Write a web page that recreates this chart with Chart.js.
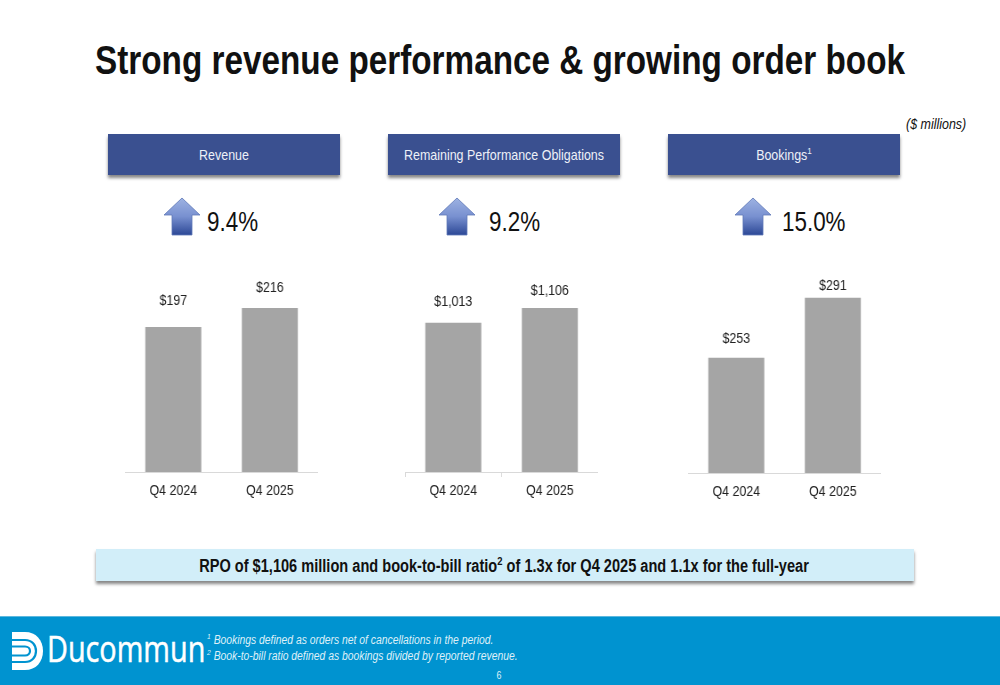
<!DOCTYPE html>
<html>
<head>
<meta charset="utf-8">
<title>Ducommun revenue and order book</title>
<script src="https://cdn.jsdelivr.net/npm/chart.js@4"></script>
<style>
  html, body { margin: 0; padding: 0; background: #fff; }
  body { width: 1000px; height: 685px; position: relative; overflow: hidden; font-family: "Liberation Sans", Arial, sans-serif; color: #111; }
  /* the slide runs a little narrow, so text and canvases get a horizontal squeeze */
  .l, .c { position: absolute; white-space: nowrap; line-height: 1; }
  .l { transform: scaleX(.89); transform-origin: left center; }
  .c { transform: translateX(-50%) scaleX(.89); }
  sup { font-size: 65%; line-height: 0; }
  canvas { position: absolute; transform: scaleX(.89); transform-origin: left top; }
  .head { position: absolute; top: 134px; width: 232px; height: 41px; background: #3a5090; box-shadow: 0 3px 3px rgba(70,70,70,.65); }
  .head div { left: 116px; top: 13px; color: #eef1f8; font-size: 15px; transform: translateX(-50%) scaleX(.83); }
  .arrow { position: absolute; top: 197px; width: 38px; height: 39px; }
  .pct { font-size: 28px; top: 208px; color: #111; transform: scaleX(.8); }
  #note { position: absolute; left: 96px; top: 549px; width: 818px; height: 32px; background: #d2eef9; box-shadow: 0 3px 3px rgba(70,70,70,.65); }
  #foot { position: absolute; left: 0; top: 616px; width: 1000px; height: 69px; background: #0093d0; border-top: 1px solid #5db8de; box-sizing: border-box; }
  .fn { font-size: 12px; font-style: italic; color: #dff0f8; transform: scaleX(.863); }
</style>
</head>
<body>
<div class="c" style="left:500px;top:40px;font-size:40px;font-weight:bold;transform:translateX(-50%) scaleX(.832)">Strong revenue performance &amp; growing order book</div>
<div class="l" style="left:906px;top:117px;font-size:14px;font-style:italic">($ millions)</div>

<div class="head" style="left:108px"><div class="c">Revenue</div></div>
<div class="head" style="left:388px"><div class="c">Remaining Performance Obligations</div></div>
<div class="head" style="left:668px"><div class="c">Bookings<sup>1</sup></div></div>

<svg width="0" height="0" style="position:absolute">
  <defs>
    <linearGradient id="up" x1="0" y1="0" x2="0" y2="1">
      <stop offset="0" stop-color="#9db2e2"/>
      <stop offset=".5" stop-color="#7890d0"/>
      <stop offset="1" stop-color="#2c4896"/>
    </linearGradient>
    <path id="upPath" d="M19 1 L37 18 H29 V38 H9 V18 H1 Z" fill="url(#up)" stroke="#5f79b8" stroke-width=".8"/>
  </defs>
</svg>
<svg class="arrow" style="left:163px"><use href="#upPath"/></svg>
<svg class="arrow" style="left:438px"><use href="#upPath"/></svg>
<svg class="arrow" style="left:734px"><use href="#upPath"/></svg>
<div class="l pct" id="pct0" style="left:207px"></div>
<div class="l pct" id="pct1" style="left:489px"></div>
<div class="l pct" id="pct2" style="left:782px"></div>

<canvas id="revenueChart" width="217" height="230" style="left:125px;top:270px"></canvas>
<canvas id="rpoChart" width="217" height="230" style="left:405px;top:270px"></canvas>
<canvas id="bookingsChart" width="217" height="230" style="left:688px;top:271px"></canvas>

<div id="note"><div class="c" style="left:407.5px;top:8px;font-size:18px;font-weight:bold;transform:translateX(-50%) scaleX(.81)">RPO of $1,106 million and book-to-bill ratio<sup>2</sup> of 1.3x for Q4 2025 and 1.1x for the full-year</div></div>

<div id="foot">
  <!-- company mark: white D cut by two nested blue lines -->
  <svg style="position:absolute;left:12px;top:14px" width="31" height="40" viewBox="0 0 31 40">
    <path d="M0 1 H13 C24 1 31 9 31 20 C31 31 24 39 13 39 H0 V30 H0 Z" fill="#fff"/>
    <path d="M0 9 H13 C20 9 24 14 24 20 C24 26 20 31 13 31 H0" fill="none" stroke="#0093d0" stroke-width="2.2"/>
    <path d="M0 15.5 H13 C16 15.5 18 17.5 18 20 C18 22.5 16 24.5 13 24.5 H0" fill="none" stroke="#0093d0" stroke-width="2.2"/>
  </svg>
  <div class="l" style="left:47px;top:14px;font-size:36px;font-family:'Open Sans';color:#fff;-webkit-text-stroke:.5px #fff;transform:scaleX(.8)">Ducommun</div>
  <div class="l fn" style="left:207px;top:17px"><sup>1</sup> Bookings defined as orders net of cancellations in the period.</div>
  <div class="l fn" style="left:207px;top:33px"><sup>2</sup> Book-to-bill ratio defined as bookings divided by reported revenue.</div>
  <div class="c" style="left:499px;top:54px;font-size:10px;color:#dff0f8">6</div>
</div>

<script>
// quarters shown under every panel
var quarters = ['Q4 2024', 'Q4 2025'];

// $ millions
var revenue = [197, 216];
var rpo = [1013, 1106];
var bookings = [253, 291];

// year over year growth beside each arrow
var growth = ['9.4%', '9.2%', '15.0%'];

growth.forEach(function (g, i) {
    document.getElementById('pct' + i).textContent = g;
});

// writes "$1,013" style labels above the bars
var valueLabels = {
    id: 'valueLabels',
    afterDatasetsDraw: function (chart, args, opts) {
        var ctx = chart.ctx;
        var values = chart.data.datasets[0].data;
        ctx.save();
        ctx.font = '14px "Liberation Sans"';
        ctx.fillStyle = '#222';
        ctx.textAlign = 'center';
        ctx.textBaseline = 'middle';
        chart.getDatasetMeta(0).data.forEach(function (bar, i) {
            ctx.fillText('$' + values[i].toLocaleString('en-US'), bar.x, bar.y - opts.lift[i]);
        });
        ctx.restore();
    }
};

function panel(id, values, yMin, yMax, lift, withTicks) {
    return new Chart(document.getElementById(id), {
        type: 'bar',
        data: {
            labels: quarters,
            datasets: [{
                data: values,
                backgroundColor: '#a5a5a5',
                borderWidth: 0,
                categoryPercentage: 1,
                barPercentage: 0.58
            }]
        },
        options: {
            responsive: false,
            animation: false,
            layout: { padding: 0 },
            plugins: {
                legend: { display: false },
                tooltip: { enabled: false },
                valueLabels: { lift: lift }
            },
            scales: {
                x: {
                    afterFit: function (scale) { scale.height = 28; },
                    border: { color: '#d9d9d9', width: 1 },
                    grid: { drawOnChartArea: false, drawTicks: withTicks, tickLength: 5, tickColor: '#d9d9d9' },
                    ticks: {
                        color: '#222',
                        font: { family: '"Liberation Sans"', size: 14 },
                        padding: withTicks ? 6 : 11,
                        maxRotation: 0,
                        autoSkip: false
                    }
                },
                y: { display: false, min: yMin, max: yMax }
            }
        },
        plugins: [valueLabels]
    });
}

panel('revenueChart', revenue, 52, 254, [26, 20], false);
panel('rpoChart', rpo, 68, 1346, [20, 17], true);
panel('bookingsChart', bookings, 180, 308, [19, 12], false);
</script>
</body>
</html>
